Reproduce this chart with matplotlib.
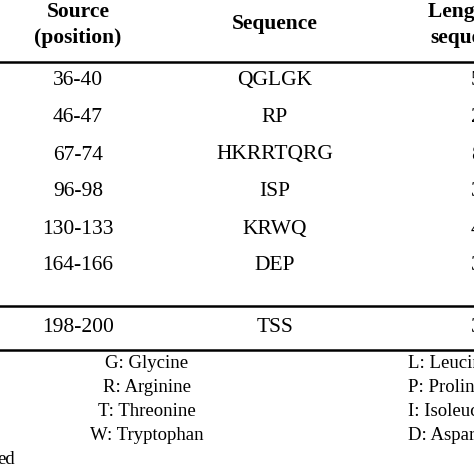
import matplotlib
matplotlib.use("Agg")
import matplotlib.pyplot as plt

# table content
sources = ["36-40", "46-47", "67-74", "96-98", "130-133", "164-166", "198-200"]
sequences = ["QGLGK", "RP", "HKRRTQRG", "ISP", "KRWQ", "DEP", "TSS"]
lengths = ["5", "2", "8", "3", "4", "3", "3"]
notes_left = ["G: Glycine", "R: Arginine", "T: Threonine", "W: Tryptophan"]
notes_right = ["L: Leucine", "P: Proline", "I: Isoleucine", "D: Aspartic acid"]

row_y = [80, 117, 155, 192, 229, 266, 328]
note_y = [363, 387, 411, 435]

plt.rcParams["font.family"] = ["Liberation Serif", "DejaVu Serif"]

fig = plt.figure(figsize=(4.74, 4.74), dpi=100)
ax = fig.add_axes([0, 0, 1, 1])
ax.set_xlim(0, 474)
ax.set_ylim(474, 0)
ax.axis("off")

fs = 15.5
# header
ax.text(78, 12, "Source", ha="center", va="center", fontsize=fs, fontweight="bold")
ax.text(78, 38, "(position)", ha="center", va="center", fontsize=fs, fontweight="bold")
ax.text(275, 24, "Sequence", ha="center", va="center", fontsize=fs, fontweight="bold")
ax.text(428, 12, "Length of", ha="left", va="center", fontsize=fs, fontweight="bold")
ax.text(430, 38, "sequence", ha="left", va="center", fontsize=fs, fontweight="bold")

# rules
ax.plot([0, 474], [62, 62], color="black", lw=1.8)
ax.plot([0, 474], [306, 306], color="black", lw=1.8)
ax.plot([0, 474], [350, 350], color="black", lw=1.8)

for y, s, q, n in zip(row_y, sources, sequences, lengths):
    ax.text(78, y, s, ha="center", va="center", fontsize=fs)
    ax.text(275, y, q, ha="center", va="center", fontsize=fs)
    ax.text(471, y, n, ha="left", va="center", fontsize=fs)

for y, a, b in zip(note_y, notes_left, notes_right):
    ax.text(147, y, a, ha="center", va="center", fontsize=13.5)
    ax.text(408, y, b, ha="left", va="center", fontsize=13.5)

ax.text(-3, 460, "ed", ha="left", va="center", fontsize=13.5)

fig.savefig("out.png", dpi=100)
